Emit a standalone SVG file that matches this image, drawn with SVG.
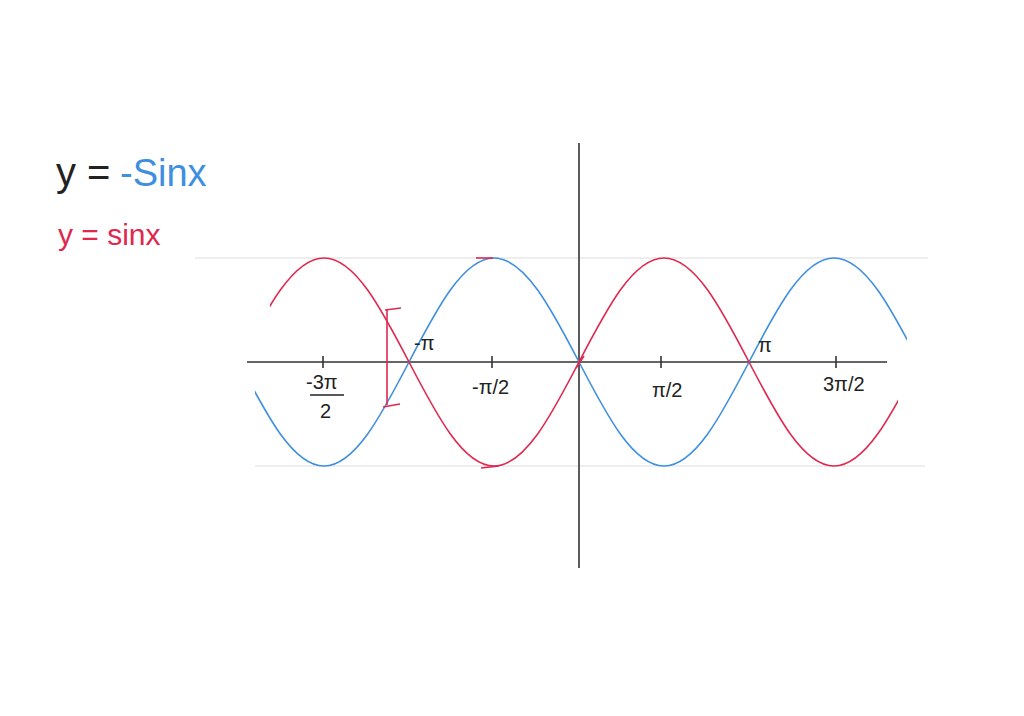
<svg xmlns="http://www.w3.org/2000/svg" width="1024" height="716" viewBox="0 0 1024 716">
<style>
.ax{stroke:#333;stroke-width:1.6;fill:none}
.g{stroke:#e8e8e8;stroke-width:1.5}
.b{stroke:#3f8fe0;stroke-width:1.6;fill:none}
.r{stroke:#e0284f;stroke-width:1.6;fill:none}
.t{font-family:"Liberation Sans",sans-serif;fill:#222}
</style>
<defs>
<clipPath id="cb"><rect x="255" y="200" width="652" height="300"/></clipPath>
<clipPath id="cr"><rect x="270" y="200" width="628" height="300"/></clipPath>
</defs>
<rect width="1024" height="716" fill="#fff"/>
<line class="g" x1="195" y1="258" x2="928" y2="258"/>
<line class="g" x1="255" y1="466" x2="925" y2="466"/>
<line class="ax" x1="247" y1="362" x2="887" y2="362"/>
<line class="ax" x1="579" y1="143" x2="579" y2="568"/>
<g class="ax">
<line x1="323" y1="356" x2="323" y2="368"/><line x1="492" y1="356" x2="492" y2="368"/>
<line x1="661" y1="356" x2="661" y2="368"/><line x1="836" y1="356" x2="836" y2="368"/>
</g>
<g id="blue-curve">
<path class="b" clip-path="url(#cb)" d="M239,362 C266.7,415.3 293.2,466 324,466 C354.8,466 381.3,415.3 409,362 C436.7,308.7 463.2,258 494,258 C524.8,258 551.3,308.7 579,362 C606.7,415.3 633.2,466 664,466 C694.8,466 721.3,415.3 749,362 C776.7,308.7 803.2,258 834,258 C864.8,258 891.3,308.7 919,362"/>
</g>
<g id="red-curve">
<path class="r" clip-path="url(#cr)" d="M239,362 C266.7,308.7 293.2,258 324,258 C354.8,258 381.3,308.7 409,362 C436.7,415.3 463.2,466 494,466 C524.8,466 551.3,415.3 579,362 C606.7,308.7 633.2,258 664,258 C694.8,258 721.3,308.7 749,362 C776.7,415.3 803.2,466 834,466 C864.8,466 891.3,415.3 919,362"/>
</g>
<g class="r" stroke-width="2.5">
<line x1="387" y1="310" x2="387" y2="405"/>
<line x1="385" y1="310" x2="401" y2="308"/>
<line x1="383" y1="407" x2="400" y2="404"/>
<line x1="476" y1="258" x2="493" y2="258"/>
<line x1="481" y1="468" x2="499" y2="466"/>
<line x1="576" y1="368" x2="584" y2="356"/>
</g>
<text class="t" x="56" y="186" font-size="40">y =</text>
<text class="t" x="120" y="186" font-size="38" style="fill:#3f8fe0">-Sinx</text>
<text class="t" x="58" y="245" font-size="30" style="fill:#e0284f">y = sinx</text>
<g class="t" font-size="20">
<text x="306" y="389">-3π</text>
<line x1="310" y1="395" x2="344" y2="395" stroke="#222" stroke-width="1.5"/>
<text x="320" y="418">2</text>
<text x="414" y="350">-π</text>
<text x="472" y="394">-π/2</text>
<text x="652" y="397">π/2</text>
<text x="758" y="352">π</text>
<text x="823" y="391">3π/2</text>
</g>
</svg>
